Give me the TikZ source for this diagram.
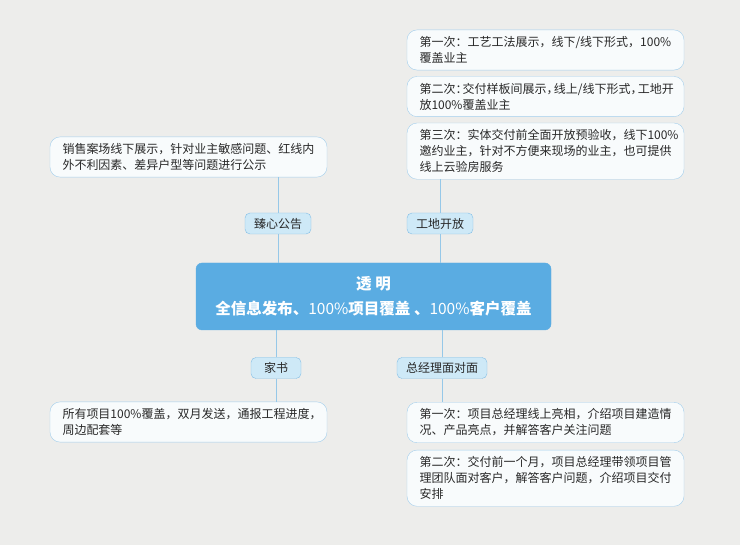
\documentclass[tikz,border=0pt]{standalone}
\usepackage{fontspec}
\setmainfont{Noto Sans CJK SC}
\usepackage{tikz}
\usetikzlibrary{positioning}
\definecolor{mmbg}{RGB}{237,237,235}
\definecolor{mmblue}{RGB}{90,172,226}
\definecolor{mmtag}{RGB}{206,233,247}
\definecolor{mmtagline}{RGB}{130,190,230}
\definecolor{mmleaf}{RGB}{248,251,252}
\definecolor{mmleafline}{RGB}{162,206,236}
\definecolor{mmline}{RGB}{150,200,232}
\definecolor{mmtext}{RGB}{40,40,40}
\newcommand{\narrowpunct}[1]{\makebox[0.6em][l]{#1}}
\tikzstyle{topic} = [rectangle, rounded corners=6pt, minimum width=355pt,
    minimum height=67pt, fill=mmblue, draw=mmblue, text=white, align=center,
    font=\fontsize{15.5}{25}\selectfont\bfseries]
\tikzstyle{tag} = [rectangle, rounded corners=5pt, minimum width=50pt,
    minimum height=21pt, inner xsep=9pt, inner ysep=0pt, draw=mmtagline, fill=mmtag,
    text=mmtext, font=\fontsize{12}{14}\selectfont]
\tikzstyle{leaf} = [rectangle, rounded corners=10pt, minimum width=277pt,
    text width=252pt, inner xsep=12.5pt, inner ysep=6.5pt, draw=mmleafline, fill=mmleaf,
    text=mmtext, align=left, font=\fontsize{12}{16}\selectfont]
\tikzstyle{link} = [thick, color=mmline]

\begin{document}
\begin{tikzpicture}[x=1pt, y=-1pt, node distance=6pt]
\useasboundingbox (0,0) rectangle (740,545);
\fill[mmbg] (0,0) rectangle (740,545);
\node[topic] (hub) at (373.5,296.5) {透 明\\全信息发布、{\mdseries 100\%}项目覆盖 、{\mdseries 100\%}客户覆盖};
\node[tag] (gonggao) at (278,223.5) {臻心公告};
\node[tag] (gongdi) at (440,223.5) {工地开放};
\node[tag] (jiashu) at (276,368) {家书};
\node[tag] (mianduimian) at (442,368) {总经理面对面};
\node[leaf] (shouloubu) at (188.5,157) {销售案场线下展示，针对业主敏感问题、红线内\\外不利因素、差异户型等问题进行公示};
\node[leaf] (open1) at (545.5,50) {第一次：工艺工法展示，线下/线下形式，100\%\\覆盖业主};
\node[leaf, below=of open1] (open2) {第二次\narrowpunct{：}交付样板间展示\narrowpunct{，}线上/线下形式\narrowpunct{，}工地开\\放100\%覆盖业主};
\node[leaf, below=of open2] (open3) {第三次：实体交付前全面开放预验收，线下100\%\\邀约业主，针对不方便来现场的业主，也可提供\\线上云验房服务};
\node[leaf] (letter) at (188.5,422) {所有项目100\%覆盖，双月发送，通报工程进度，\\周边配套等};
\node[leaf] (face1) at (545.5,422.5) {第一次：项目总经理线上亮相，介绍项目建造情\\况、产品亮点，并解答客户关注问题};
\node[leaf, below=7pt of face1] (face2) {第二次：交付前一个月，项目总经理带领项目管\\理团队面对客户，解答客户问题，介绍项目交付\\安排};
\draw[link] (gonggao.north) -- (gonggao.north |- shouloubu.south);
\draw[link] (gonggao.south) -- (gonggao.south |- hub.north);
\draw[link] (gongdi.north) -- (gongdi.north |- open3.south);
\draw[link] (gongdi.south) -- (gongdi.south |- hub.north);
\draw[link] (jiashu.north) -- (jiashu.north |- hub.south);
\draw[link] (jiashu.south) -- (jiashu.south |- letter.north);
\draw[link] (mianduimian.north) -- (mianduimian.north |- hub.south);
\draw[link] (mianduimian.south) -- (mianduimian.south |- face1.north);
\end{tikzpicture}
\end{document}
